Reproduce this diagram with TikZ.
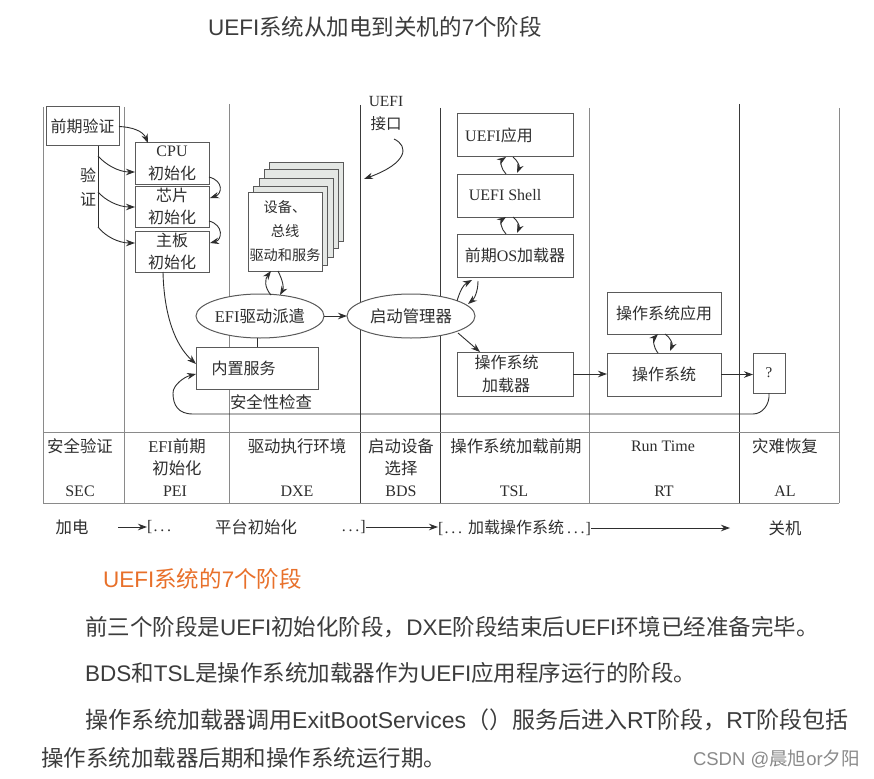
\documentclass[tikz,border=0pt]{standalone}
\usepackage{fontspec}
\setmainfont{Noto Sans CJK SC}
\newfontfamily\ser{Liberation Serif}
\newfontfamily\lat{Liberation Sans}
\usetikzlibrary{arrows.meta,calc,shapes.geometric}
\definecolor{ink}{HTML}{2E2E2E}
\definecolor{rule}{HTML}{8A8A8A}
\definecolor{darkrule}{HTML}{3A3A3A}
\definecolor{boxline}{HTML}{5A5A5A}
\definecolor{layer}{HTML}{E4E7E4}
\definecolor{bodyink}{HTML}{3C3C3C}
\definecolor{heading}{HTML}{E8702A}
\newcommand\sz[2]{\fontsize{#1}{#2}\selectfont}
\newcommand\off[2]{\hbox{#2\kern#1pt}}
\newcommand\dts{.\kern2.8pt.\kern2.8pt.}
\tikzset{
  x=1pt,y=-1pt,
  phase/.style={draw=rule,line width=1pt},
  darkphase/.style={draw=darkrule,line width=.9pt},
  box/.style={draw=boxline,fill=white,line width=1pt,inner sep=0pt,outer sep=0pt,align=center,text=ink,font=\sz{16}{22.5}},
  oval/.style={ellipse,draw=boxline,fill=white,line width=1pt,inner sep=0pt,outer sep=0pt,minimum width=128pt,minimum height=44pt,text=ink,font=\sz{16.4}{20}},
  sheet/.style={draw=boxline,fill=layer,line width=.8pt,minimum width=74pt,minimum height=79pt,inner sep=0pt,outer sep=0pt,anchor=north west},
  lbl/.style={text=ink,inner sep=0pt,align=center,font=\sz{16.4}{22}},
  latn/.style={text=ink,inner sep=0pt,align=center,font=\ser\sz{16}{20}},
  body/.style={anchor=west,inner sep=0pt,text=bodyink,font=\sz{22.5}{26}},
  con/.style={draw=ink,line width=.9pt,-{Stealth[length=9pt,width=6.5pt]}},
  plain/.style={draw=ink,line width=.9pt},
}
\begin{document}
\begin{tikzpicture}
\useasboundingbox (0,0) rectangle (874,778);
\fill[white] (0,0) rectangle (874,778);

% phase lines
\draw[phase] (43,107) -- (43,503);
\draw[phase] (124,107) -- (124,503);
\draw[phase] (229,104) -- (229,503);
\draw[darkphase] (360,105) -- (360,503);
\draw[darkphase] (440,108) -- (440,503);
\draw[phase] (589,108) -- (589,503);
\draw[darkphase] (739,104) -- (739,503);
\draw[phase] (839,108) -- (839,503);
\draw[phase] (43,432) -- (839,432);
\draw[phase] (43,503) -- (839,503);

% title and captions
\node[anchor=west,inner sep=0pt,text=bodyink,font=\sz{22.5}{26}] (title) at (208,27) {{\lat UEFI}系统从加电到关机的{\lat 7}个阶段};
\node[anchor=west,inner sep=0pt,text=heading,font=\sz{22.5}{24}] (cap) at (103,579) {{\lat UEFI}系统的{\lat 7}个阶段};
\node[body] (p1) at (85,627) {前三个阶段是{\lat UEFI}初始化阶段，{\lat DXE}阶段结束后{\lat UEFI}环境已经准备完毕。};
\node[body] (p2) at (85,673) {{\lat BDS}和{\lat TSL}是操作系统加载器作为{\lat UEFI}应用程序运行的阶段。};
\node[body,font=\sz{23}{26}] (p3) at (85,720) {操作系统加载器调用{\lat ExitBootServices}（）服务后进入{\lat RT}阶段，{\lat RT}阶段包括};
\node[body] (p4) at (41,758) {操作系统加载器后期和操作系统运行期。};
\node[anchor=east,inner sep=0pt,text=rule,font=\sz{18.5}{20}] (mark) at (860,759) {{\lat CSDN @}晨旭{\lat or}夕阳};

% boxes
\node[box,minimum width=73pt,minimum height=39pt] (pre) at (82.5,126.5) {前期验证};
\node[box,minimum width=74pt,minimum height=41pt] (cpu) at (172,163.5) {{\ser CPU}\\初始化};
\node[box,minimum width=74pt,minimum height=41pt] (chip) at (172,206.5) {芯片\\初始化};
\node[box,minimum width=74pt,minimum height=41pt] (board) at (172,251.5) {主板\\初始化};

\node[sheet] (s4) at (269,162) {};
\node[sheet] (s3) at (264,169) {};
\node[sheet] (s2) at (259,178) {};
\node[sheet] (s1) at (253,186) {};
\node[box,font=\sz{14.2}{24},minimum width=74pt,minimum height=79pt] (dev) at (285,231.5) {设备、\\总线\\驱动和服务};

\node[oval] (efi) at (260,316) {{\ser EFI}驱动派遣};
\node[oval] (boot) at (411,316) {启动管理器};
\node[box,minimum width=122pt,minimum height=42pt] (svc) at (257,368) {\off{27}{内置服务}};
\node[box,minimum width=116pt,minimum height=43pt] (app) at (515,135.5) {\off{32}{{\ser UEFI}应用}};
\node[box,minimum width=116pt,minimum height=43pt] (shell) at (515,195.5) {\off{20}{\ser UEFI Shell}};
\node[box,minimum width=116pt,minimum height=43pt] (pol) at (515,255.5) {\off{0}{前期{\ser OS}加载器}};
\node[box,minimum width=116pt,minimum height=44pt] (ldr) at (515,374) {\off{17}{操作系统}\\\off{18}{加载器}};
\node[box,minimum width=114pt,minimum height=42pt] (osapp) at (664,313) {操作系统应用};
\node[box,minimum width=114pt,minimum height=43pt] (os) at (664,374.5) {操作系统};
\node[box,minimum width=32pt,minimum height=40pt,font=\ser\sz{15}{20}] (q) at (769,373) {?};

% free labels
\node[lbl,font=\sz{16}{24}] (verify) at (88,187) {验\\证};
\node[lbl] (sec) at (271,402) {安全性检查};
\node[lbl,font=\sz{15.5}{23}] (iface) at (386,113.5) {{\ser UEFI}\\接口};

% table
\node[lbl] (a1) at (80,446) {安全验证};
\node[lbl] (a2) at (177,457) {{\ser EFI}前期\\初始化};
\node[lbl] (a3) at (297,446) {驱动执行环境};
\node[lbl] (a4) at (401,457) {启动设备\\选择};
\node[lbl] (a5) at (516,446) {操作系统加载前期};
\node[latn] (a6) at (663,446) {Run Time};
\node[lbl] (a7) at (785,446) {灾难恢复};
\node[latn] (b1) at (80,491) {SEC};
\node[latn] (b2) at (175,491) {PEI};
\node[latn] (b3) at (297,491) {DXE};
\node[latn] (b4) at (401,491) {BDS};
\node[latn] (b5) at (514,491) {TSL};
\node[latn] (b6) at (664,491) {RT};
\node[latn] (b7) at (785,491) {AL};

% bottom row
\node[lbl] (on) at (72,527) {加电};
\node[latn,anchor=west] (l1) at (147,527) {[\kern1pt\dts};
\node[lbl] (plat) at (256,527) {平台初始化};
\node[latn,anchor=east] (r1) at (366,527) {\dts\kern1pt]};
\node[lbl,anchor=west,font=\sz{16}{22}] (load) at (438,528) {{\ser\sz{16}{20}[\kern1pt\dts}\hspace{6pt}加载操作系统\hspace{3pt}{\ser\sz{16}{20}\dts\kern1pt]}};
\node[lbl] (off) at (785,528) {关机};
\coordinate (onr) at (118,527);
\coordinate (offl) at (730,527);
\coordinate (stub) at ($(svc.north west)+(61,0)$);

% connectors
\draw[con] (pre.east) .. controls (132,127) and (143,131) .. ($(cpu.north west)+(13,0)$);
\draw[plain] ($(pre.south west)+(52,0)$) -- ($(pre.south west)+(52,81)$);
\draw[con] ($(pre.south west)+(52,10)$) .. controls (105,164) and (118,172) .. ($(cpu.north west)+(0,29)$);
\draw[con] ($(pre.south west)+(52,46)$) .. controls (105,200) and (118,207) .. ($(chip.north west)+(0,21)$);
\draw[con] ($(pre.south west)+(52,81)$) .. controls (105,236) and (118,243) .. ($(board.north west)+(0,12)$);
\draw[con] ($(cpu.south east)+(0,-7)$) .. controls (224,181) and (222,194) .. ($(chip.north east)+(1,12)$);
\draw[con] ($(chip.south east)+(0,-6)$) .. controls (224,225) and (222,240) .. ($(board.north east)+(1,12)$);
\draw[con] (163,272) .. controls (164,315) and (175,345) .. ($(svc.north west)+(0,17)$);
\draw[con] ($(efi.north)+(11,1)$) .. controls (264,287) and (265,279) .. ($(dev.south west)+(23,0)$);
\draw[con] ($(dev.south west)+(30,0)$) .. controls (283,281) and (284,288) .. ($(efi.north)+(20,1)$);
\draw[con] (efi.east) -- (boot.west);
\draw[plain] (stub |- efi.south) -- (stub);
\draw[con] ($(boot.center)+(46,-15)$) .. controls (460,291) and (463,285) .. ($(pol.south west)+(15,3)$);
\draw[con] ($(pol.south west)+(21,4)$) .. controls (478,292) and (474,299) .. ($(boot.center)+(57,-12)$);
\draw[con] ($(boot.center)+(47,17)$) -- ($(ldr.north west)+(23,0)$);
\draw[con] (ldr.east) -- (ldr.east -| os.west);
\draw[con] (os.east) -- (os.east -| q.west);
\draw[con] (q.south) .. controls (770,405) and (762,414) .. (753,414) -- (193,414) .. controls (178,414) and (173,405) .. (173,393) .. controls (173,385) and (184,377) .. ($(svc.south west)+(0,-15)$);
\draw[con] ($(shell.north west)+(49,0)$) .. controls (501,169) and (500,161) .. ($(app.south west)+(49,0)$);
\draw[con] ($(app.south west)+(56,0)$) .. controls (517,160) and (520,166) .. ($(shell.north west)+(60,-1)$);
\draw[con] ($(pol.north west)+(49,0)$) .. controls (501,229) and (500,221) .. ($(shell.south west)+(49,0)$);
\draw[con] ($(shell.south west)+(56,0)$) .. controls (517,220) and (520,226) .. ($(pol.north west)+(60,-1)$);
\draw[con] ($(os.north west)+(51,0)$) .. controls (653,347) and (653,339) .. ($(osapp.south west)+(51,0)$);
\draw[con] ($(osapp.south west)+(58,0)$) .. controls (670,337) and (673,344) .. ($(os.north west)+(63,-2)$);
\draw[con] (394,139) .. controls (409,146) and (408,163) .. (364,179);
\draw[con] (onr) -- (onr -| l1.west);
\draw[con] (r1.east) -- (r1.east -| load.west);
\draw[con] (load.east) -- (load.east -| offl);
\end{tikzpicture}
\end{document}
